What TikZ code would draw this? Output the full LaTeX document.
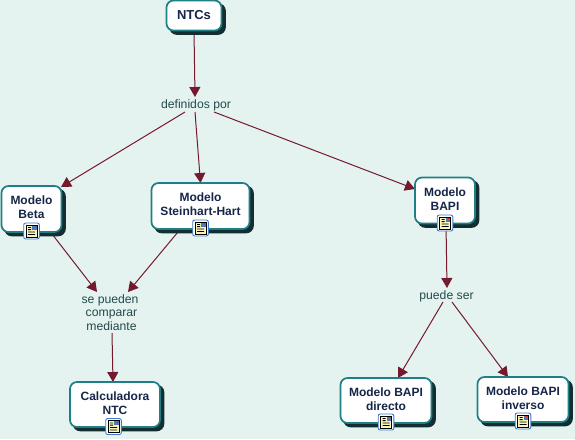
\documentclass[tikz,border=0pt]{standalone}
\usepackage{fontspec}
\setmainfont{Liberation Sans}
\usetikzlibrary{arrows.meta,backgrounds}
\definecolor{bgc}{HTML}{E4F3F0}
\definecolor{edgec}{HTML}{1F7F86}
\definecolor{shadowc}{HTML}{122E30}
\definecolor{textc}{HTML}{16264A}
\definecolor{linkc}{HTML}{751A2E}
\definecolor{phrasec}{HTML}{244A4C}
\definecolor{iconb}{HTML}{3F78C8}
\definecolor{icony}{HTML}{FBF6B8}
\tikzset{
  x=1pt,y=-1pt,
  concept/.style={draw=edgec,line width=1.7pt,fill=white,rounded corners=7pt,align=center,
    font=\fontsize{12}{14}\selectfont\bfseries,text=textc,inner sep=0pt,text depth=3pt,outer sep=0pt,
    preaction={draw=shadowc,fill=shadowc,line width=1.7pt,transform canvas={shift={(3.5pt,-3.5pt)}}}},
  phrase/.style={align=center,font=\fontsize{12.2}{13.7}\selectfont,text=phrasec,inner sep=0pt,outer sep=0pt},
  link/.style={draw=linkc,line width=1pt,-{Triangle[length=10pt,width=11pt]}},
  docicon/.pic={
    \draw[draw=iconb,fill=white,line width=0.9pt,rounded corners=2pt] (-7.8,-8) rectangle (7.8,8);
    \fill[fill=icony,draw=black,line width=0.7pt] (-5.5,-6) rectangle (5.5,6);
    \fill[black] (-3.5,-4) rectangle (-0.5,-3.2) (-3.5,-1.8) rectangle (-0.5,-1) (-3.5,0.5) rectangle (3.5,1.3) (-3.5,3) rectangle (3.5,3.8);
    \fill[iconb!70!gray] (0.5,-5.5) rectangle (5,-1.2);
    \fill[red!70!orange] (3,-5.2) rectangle (4.6,-3.8);
  }
}
\begin{document}
\begin{tikzpicture}
\useasboundingbox (0,0) rectangle (575,439);
\node[concept,minimum width=55,minimum height=30,text depth=1pt,font=\fontsize{13}{15}\selectfont\bfseries] (ntc) at (194,15.5) {NTCs};
\node[phrase,minimum height=15,text height=10pt,text depth=2pt] (def) at (196,104.5) {definidos por};
\node[concept,minimum width=60,minimum height=46] (beta) at (31.5,209) {Modelo\\Beta};
\node[concept,minimum width=98,minimum height=46] (sh) at (200.5,206) {Modelo\\Steinhart-Hart};
\node[concept,minimum width=60,minimum height=46] (bapi) at (445,200.5) {Modelo\\BAPI};
\node[phrase,minimum height=41] (comp) at (110,312.5) {se pueden\\\hspace*{3pt}comparar\\\hspace*{3pt}mediante};
\node[phrase,minimum height=14,text height=10pt,text depth=2pt] (ps) at (446.5,295) {puede ser};
\node[concept,minimum width=90,minimum height=45] (calc) at (115,404.5) {Calculadora\\NTC};
\node[concept,minimum width=91,minimum height=45] (dir) at (386,400.5) {Modelo BAPI\\directo};
\node[concept,minimum width=91,minimum height=45] (inv) at (523,399.5) {Modelo BAPI\\inverso};
\path (beta.south) ++(0,-1) pic {docicon};
\path (sh.south) ++(0,-1) pic {docicon};
\path (bapi.south) ++(0,-0.5) pic {docicon};
\path (calc.south) ++(-1.5,-0.5) pic {docicon};
\path (dir.south) ++(0,-1) pic {docicon};
\path (inv.south) ++(0,-1) pic {docicon};
\begin{scope}[on background layer]
\fill[bgc] (0,0) rectangle (575,439);
\draw[link] (ntc.south) -- ([xshift=-1pt]def.north);
\draw[link] ([xshift=-11pt]def.south) -- ([xshift=-0.5pt,yshift=-1pt]beta.north east);
\draw[link] ([xshift=-1pt]def.south) -- (sh.north);
\draw[link] ([xshift=18pt]def.south) -- ([yshift=11.5pt]bapi.west);
\draw[link] ([xshift=19pt]beta.south) -- ([xshift=-13pt]comp.north);
\draw[link] ([xshift=-20pt]sh.south) -- ([xshift=18pt]comp.north);
\draw[link] ([xshift=2pt]comp.south) -- ([xshift=-2pt]calc.north);
\draw[link] ([xshift=1pt]bapi.south) -- ([xshift=0.5pt]ps.north);
\draw[link] ([xshift=-3.5pt]ps.south) -- ([xshift=12pt]dir.north);
\draw[link] ([xshift=5.5pt]ps.south) -- ([xshift=-15pt]inv.north);
\end{scope}
\end{tikzpicture}
\end{document}
